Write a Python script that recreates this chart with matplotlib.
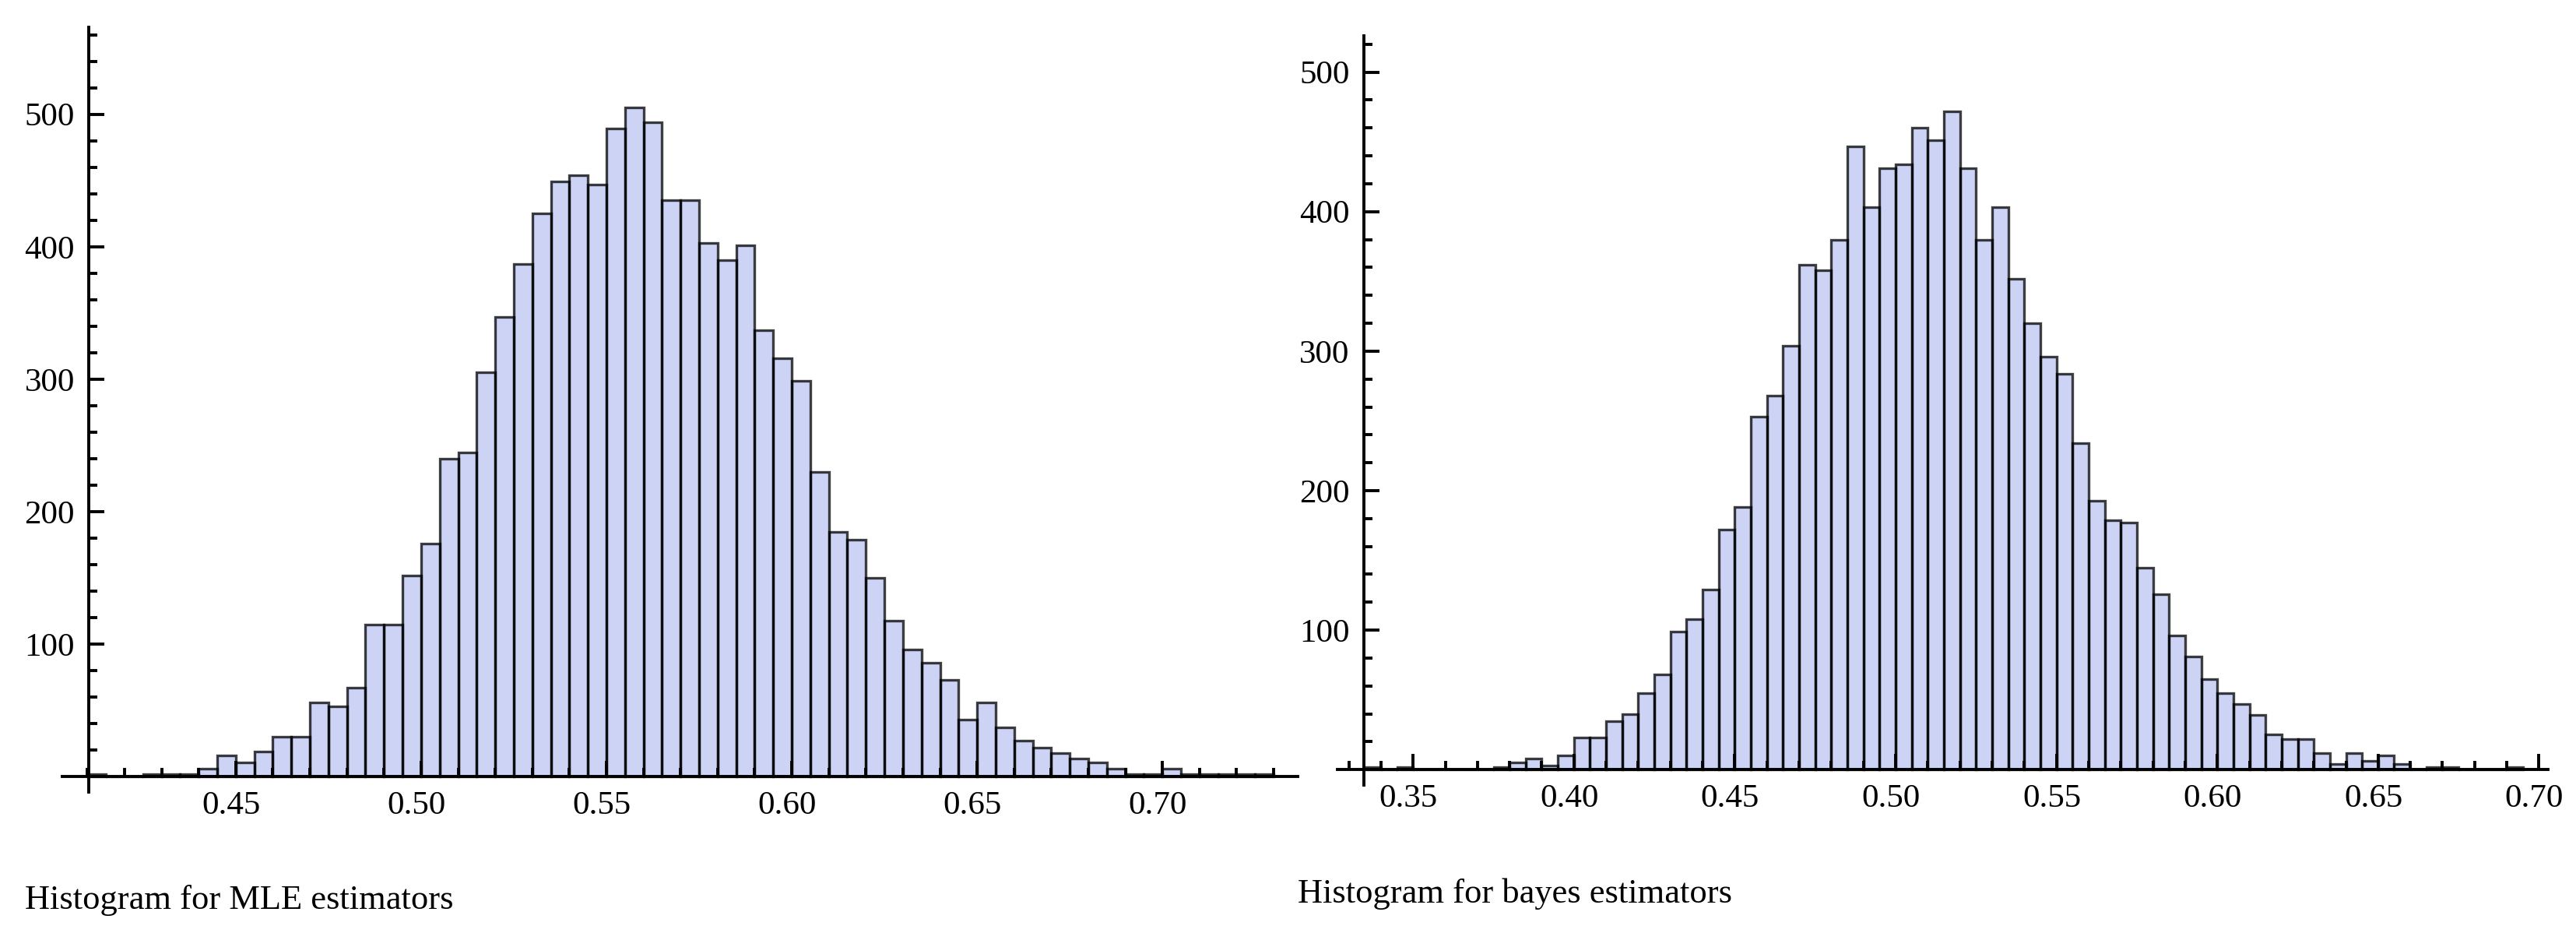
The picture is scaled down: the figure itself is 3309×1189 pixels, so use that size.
import numpy as np
import matplotlib
matplotlib.use("Agg")
import matplotlib.pyplot as plt
import matplotlib.transforms as mtransforms

# Histogram data (counts per bin of width 0.005)
bin_width = 0.005

mle_first_bin = 0.410
mle_counts = [2, 0, 0, 2, 2, 2, 6, 16, 11, 19,
              30, 30, 56, 53, 67, 115, 115, 152, 176, 240,
              245, 305, 347, 387, 425, 449, 454, 447, 489, 505,
              494, 435, 435, 403, 390, 401, 337, 316, 299, 230,
              185, 179, 150, 118, 96, 86, 73, 43, 56, 37,
              27, 22, 18, 14, 11, 6, 2, 2, 6, 2,
              2, 2, 2, 2]

bayes_first_bin = 0.335
bayes_counts = [2, 0, 2, 0, 0, 0, 0, 0, 2, 5,
                8, 3, 10, 23, 23, 35, 40, 55, 68, 99,
                108, 129, 172, 188, 253, 268, 304, 362, 358, 380,
                447, 403, 431, 434, 460, 451, 472, 431, 380, 403,
                352, 320, 296, 284, 234, 193, 179, 177, 145, 126,
                96, 81, 65, 55, 47, 39, 25, 22, 22, 12,
                4, 12, 6, 10, 4, 0, 2, 2, 0, 0,
                0, 2]

mle_xticks = [0.45, 0.50, 0.55, 0.60, 0.65, 0.70]
bayes_xticks = [0.35, 0.40, 0.45, 0.50, 0.55, 0.60, 0.65, 0.70]
count_ticks = [100, 200, 300, 400, 500]

mle_caption = "Histogram for MLE estimators"
bayes_caption = "Histogram for bayes estimators"

FILL = "#ccd3f5"
EDGE = (0.0, 0.0, 0.0, 0.75)

plt.rcParams["font.family"] = ["Liberation Serif", "DejaVu Serif"]

W, H = 3309, 1189
fig = plt.figure(figsize=(W / 100, H / 100), dpi=100)


def draw_hist(rect, first_bin, counts, xlim, ylim, yaxis_at, xmajor,
              xminor_range, ymax_minor):
    ax = fig.add_axes(rect)
    edges = first_bin + bin_width * np.arange(len(counts))
    # fill first, then outlines so shared sides darken like the original
    ax.bar(edges, counts, width=bin_width, align="edge", color=FILL,
           linewidth=0, zorder=1)
    ax.bar(edges, counts, width=bin_width, align="edge", facecolor="none",
           edgecolor=EDGE, linewidth=2.4, zorder=1.5)

    ax.set_xlim(*xlim)
    ax.set_ylim(*ylim)
    for side in ("top", "right"):
        ax.spines[side].set_visible(False)
    ax.spines["left"].set_position(("data", yaxis_at))
    ax.spines["bottom"].set_position(("data", 0))
    for side in ("left", "bottom"):
        ax.spines[side].set_linewidth(2.8)

    ax.set_xticks(xmajor)
    ax.set_xticklabels(["%.2f" % v for v in xmajor])
    lo, hi = xminor_range
    xminor = [v / 100 for v in range(lo, hi + 1) if v % 5 != 0]
    ax.set_xticks(xminor, minor=True)
    ax.set_yticks(count_ticks)
    ax.set_yticklabels([str(v) for v in count_ticks])
    yminor = [v for v in range(20, ymax_minor + 1, 20) if v % 100 != 0]
    ax.set_yticks(yminor, minor=True)

    ax.tick_params(which="major", direction="in", length=14.4, width=2.8,
                   labelsize=31, pad=13, colors="black")
    ax.tick_params(which="minor", direction="in", length=8, width=2.8)

    shift = mtransforms.ScaledTranslation(-6 / 100, 0, fig.dpi_scale_trans)
    for lab in ax.get_xticklabels():
        lab.set_transform(lab.get_transform() + shift)
    return ax


# left panel: MLE
draw_hist([80 / W, (H - 1017) / H, 1587 / W, (1017 - 35) / H],
          mle_first_bin, mle_counts,
          (0.4032, 0.7365), (-11.5, 565.6), 0.4103,
          mle_xticks, (41, 73), 560)

# right panel: bayes
draw_hist([1717.7 / W, (H - 1008.3) / H, 1555.3 / W, (1008.3 - 45.5) / H],
          bayes_first_bin, bayes_counts,
          (0.3264, 0.7028), (-11.2, 526.3), 0.3346,
          bayes_xticks, (33, 70), 520)

fig.text(31.6 / W, 1 - 1167 / H, mle_caption, ha="left", va="baseline",
         fontsize=32)
fig.text(1667 / W, 1 - 1159.3 / H, bayes_caption, ha="left", va="baseline",
         fontsize=32)

fig.savefig("out.png", dpi=100)
